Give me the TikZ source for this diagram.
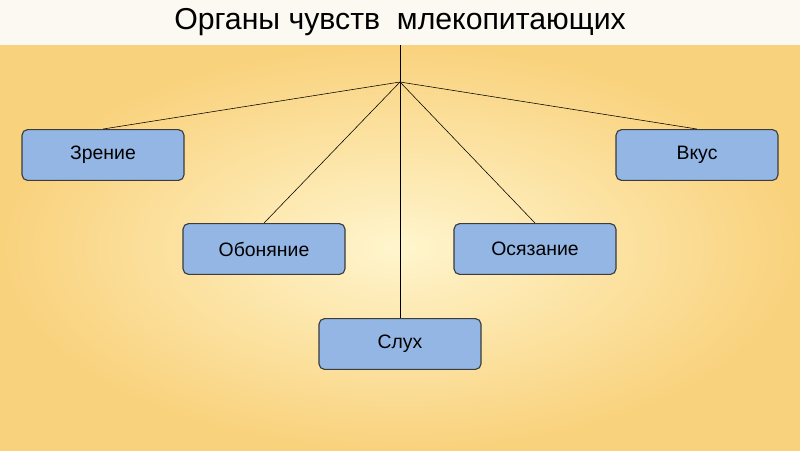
\documentclass[tikz,border=0pt]{standalone}
\usepackage{fontspec}
\setmainfont{Liberation Sans}
\usepackage{xcolor}
\usetikzlibrary{positioning}
\definecolor{sensefill}{RGB}{147,182,228}
\definecolor{senseline}{RGB}{60,60,60}
\definecolor{bgcenter}{RGB}{255,245,205}
\definecolor{bgedge}{RGB}{249,210,125}
\definecolor{topband}{RGB}{251,249,242}
\tikzset{
    sense/.style={rectangle, rounded corners=4pt, minimum width=4.05cm, minimum height=1.27cm, text centered, draw=senseline, thick, fill=sensefill, font=\fontsize{13.8}{15}\selectfont},
    branch/.style={thin, black}
}
\begin{document}
\begin{tikzpicture}[x=0.025cm, y=-0.025cm]
    % Background
    \fill[topband] (0,0) rectangle (800,45);
    \shade[inner color=bgcenter, outer color=bgedge] (0,45) rectangle (800,450);
    \useasboundingbox (0,0) rectangle (800,450);

    % Title
    \node[font=\fontsize{21.5}{24}\selectfont] (title) at (400,22) {Органы чувств\ \ млекопитающих};
    \coordinate (top) at (400,45);
    \coordinate (hub) at (400,82);

    % Senses
    \node[sense] (vision) at (103,155) {Зрение};
    \node[sense] (taste) at (697,155) {Вкус};
    \node[sense] (smell) at (264,249) {Обоняние};
    \node[sense] (touch) at (535,249) {Осязание};
    \node[sense] (hearing) at (400,344) {Слух};

    % Connections
    \draw[branch] (top) -- (hearing.north);
    \draw[branch] (hub) -- (vision.north);
    \draw[branch] (hub) -- (taste.north);
    \draw[branch] (hub) -- (smell.north);
    \draw[branch] (hub) -- (touch.north);
\end{tikzpicture}
\end{document}
